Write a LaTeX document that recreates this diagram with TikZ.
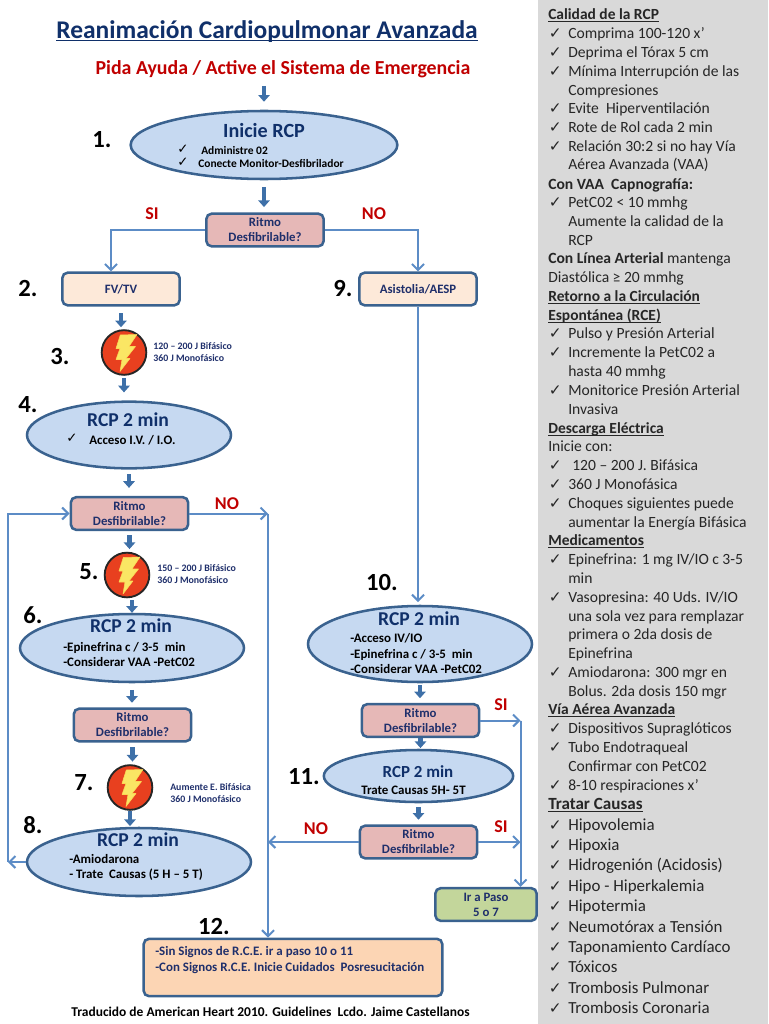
\documentclass[tikz,border=0pt]{standalone}
\usepackage{fontspec}
\setmainfont{Carlito}
\newfontfamily\chkfont{DejaVu Sans}
\usetikzlibrary{arrows.meta,shapes.geometric}
\definecolor{azultxt}{HTML}{10306A}
\definecolor{azulbox}{HTML}{1F2F6B}
\definecolor{rojotxt}{HTML}{C00000}
\definecolor{borde}{HTML}{3A628F}
\definecolor{flecha}{HTML}{3E70A8}
\definecolor{linea}{HTML}{5C8CC6}
\definecolor{elipsefill}{HTML}{C6D9F1}
\definecolor{ritmofill}{HTML}{E6B8B7}
\definecolor{fvfill}{HTML}{FDE9D9}
\definecolor{finfill}{HTML}{FCD5B4}
\definecolor{pasofill}{HTML}{C3D69B}
\definecolor{lateral}{HTML}{D9D9D9}
\definecolor{rayorojo}{HTML}{E8401F}
\definecolor{rayoamar}{HTML}{FAE664}
\newcommand\fs[1]{\fontsize{#1}{#1}\selectfont}
\newcommand\rayado[1]{\underline{\smash{#1}}}
\tikzset{
	rayo/.pic={\draw[rayoamar!85!orange,fill=rayoamar,line width=.4pt,line join=round]
		(-3.7,-17.5) -- (13,-18) -- (5,-6) -- (11.5,-6) -- (2,6) -- (6,6) -- (-4,19)
		-- (-2,7) -- (-8,7) -- (-4,-4) -- (-8,-4) -- cycle;}
}

\begin{document}
\begin{tikzpicture}[x=.75pt,y=-.75pt,
	texto/.style={inner sep=0pt,text=black,font=\fs{9.7}\bfseries,anchor=west,text height=1.5ex,text depth=.3ex,yshift=-.6pt},
	numero/.style={inner sep=0pt,font=\fs{18.5}\bfseries},
	sino/.style={inner sep=0pt,text=rojotxt,font=\fs{13.5}\bfseries},
	rcp/.style={inner sep=0pt,text=azultxt,font=\fs{14.7}\bfseries},
	energia/.style={inner sep=0pt,text=azulbox,font=\fs{7.4}\bfseries,anchor=west},
	marca/.style={inner sep=0pt,font=\chkfont\fs{10}},
	elipse/.style={ellipse,draw=borde,fill=elipsefill,line width=1.9pt,inner sep=0pt},
	caja/.style={rectangle,rounded corners=4pt,draw=borde,line width=1.9pt,inner sep=0pt,align=center,
		text=azulbox,font=\fs{9.6}\bfseries,minimum width=88pt,minimum height=24.5pt},
	ritmo/.style={caja,fill=ritmofill},
	fv/.style={caja,fill=fvfill},
	descarga/.style={circle,draw=black!85,fill=rayorojo,line width=1.4pt,minimum size=33.5pt,inner sep=0pt},
	gruesa/.style={flecha,line width=3.4pt,-{Triangle[width=8.5pt,length=5pt]}},
	fina/.style={linea,line width=1.5pt,-{Straight Barb[length=4.5pt,width=9pt]}},
	lado/.style={inner sep=0pt,text=black!85,font=\fs{11.7},anchor=west,text height=1.5ex,text depth=.3ex,yshift=-1.5pt},
	ladob/.style={lado,font=\fs{11.6}\bfseries},
	ladoitem/.style={lado,execute at begin node={\llap{{\chkfont\fs{11.5}✓}\hspace{5pt}}}},
	causa/.style={ladoitem,font=\fs{12.7}}]
	\useasboundingbox (0,0) rectangle (768,1024);
	\fill[lateral] (538,0) rectangle (768,1024);

	\node[inner sep=0pt,text=azultxt,font=\fs{19.1}\bfseries] (titulo) at (267,40) {\rayado{Reanimación Cardiopulmonar Avanzada}};
	\node[inner sep=0pt,text=rojotxt,font=\fs{14.9}\bfseries] (pida) at (283,69) {Pida Ayuda / Active el Sistema de Emergencia};

	\node[elipse,minimum width=200pt,minimum height=51pt] (inicie) at (264,145) {};
	\node[rcp,font=\fs{15.1}\bfseries] (iniciet) at (264,131) {Inicie RCP};
	\node[marca] (m1) at (183,149) {✓};
	\node[texto,font=\fs{8.6}\bfseries] (ini1) at (201,150) {Administre 02};
	\node[marca] (m2) at (183,162) {✓};
	\node[texto,font=\fs{8.6}\bfseries] (ini2) at (198,163) {Conecte Monitor-Desfibrilador};

	\node[ritmo] (ritmo1) at (265,230) {Ritmo\\[1.7pt]Desfibrilable?};
	\node[sino] (si1) at (152,214) {SI};
	\node[sino] (no1) at (374,214) {NO};
	\node[fv] (fvtv) at (121,289) {FV/TV};
	\node[fv] (asistolia) at (418,289) {Asistolia/AESP};

	\node[descarga] (rayo3) at (124,352.5) {};
	\pic at (rayo3) {rayo};
	\node[energia] (e3a) at (153,346) {120 – 200 J Bifásico};
	\node[energia] (e3b) at (153,358) {360 J Monofásico};

	\node[elipse,minimum width=153pt,minimum height=50pt] (rcp4) at (129,435) {};
	\node[rcp] (rcp4t) at (128,420) {RCP 2 min};
	\node[marca] (m3) at (72,438) {✓};
	\node[texto] (rcp4a) at (89,440) {Acceso I.V. / I.O.};

	\node[ritmo] (ritmo2) at (129.5,513.5) {Ritmo\\[1.7pt]Desfibrilable?};
	\node[sino] (no2) at (227,504) {NO};

	\node[descarga] (rayo5) at (127,575) {};
	\pic at (rayo5) {rayo};
	\node[energia] (e5a) at (157,568) {150 – 200 J Bifásico};
	\node[energia] (e5b) at (157,580) {360 J Monofásico};

	\node[elipse,minimum width=168pt,minimum height=51pt] (rcp6) at (132,648) {};
	\node[rcp] (rcp6t) at (131,626) {RCP 2 min};
	\node[texto] (rcp6a) at (63,647) {-Epinefrina c / 3-5~ min};
	\node[texto] (rcp6b) at (63,662) {-Considerar VAA -PetC02};

	\node[ritmo] (ritmo3) at (132.5,725) {Ritmo\\[1.7pt]Desfibrilable?};

	\node[descarga] (rayo7) at (130,787.5) {};
	\pic at (rayo7) {rayo};
	\node[energia] (e7a) at (170,787) {Aumente E. Bifásica};
	\node[energia] (e7b) at (170,799) {360 J Monofásico};

	\node[elipse,minimum width=168pt,minimum height=51pt] (rcp8) at (139,862) {};
	\node[rcp] (rcp8t) at (138,840) {RCP 2 min};
	\node[texto] (rcp8a) at (69,859) {-Amiodarona};
	\node[texto] (rcp8b) at (69,874) {- Trate~ Causas (5 H – 5 T)};

	\node[elipse,minimum width=168pt,minimum height=57pt] (rcp10) at (420,644) {};
	\node[rcp] (rcp10t) at (419,619) {RCP 2 min};
	\node[texto] (rcp10a) at (350,638) {-Acceso IV/IO};
	\node[texto] (rcp10b) at (350,654) {-Epinefrina c / 3-5~ min};
	\node[texto] (rcp10c) at (350,669) {-Considerar VAA -PetC02};

	\node[ritmo] (ritmo4) at (420.5,720.5) {Ritmo\\[1.7pt]Desfibrilable?};
	\node[sino] (si4) at (501,705) {SI};

	\node[elipse,minimum width=142pt,minimum height=39pt] (rcp11) at (418.5,776) {};
	\node[rcp,font=\fs{12.7}\bfseries] (rcp11t) at (418,772) {RCP 2 min};
	\node[texto] (rcp11a) at (361,790) {Trate Causas 5H- 5T};

	\node[ritmo] (ritmo5) at (418.5,842) {Ritmo\\[1.7pt]Desfibrilable?};
	\node[sino] (no5) at (316,829) {NO};
	\node[sino] (si5) at (501,827) {SI};
	\node[caja,fill=pasofill,minimum width=76pt,minimum height=24.5pt] (irpaso) at (486,904.5) {Ir a Paso\\[1.7pt]5 o 7};

	\node[caja,fill=finfill,minimum width=224pt,minimum height=43pt] (fin) at (293,967.5) {};
	\node[texto,text=azulbox] (fina) at (155,951) {-Sin Signos de R.C.E. ir a paso 10 o 11};
	\node[texto,text=azulbox] (finb) at (155,967) {-Con Signos R.C.E. Inicie Cuidados~ Posresucitación};
	\node[inner sep=0pt,font=\fs{10.1}\bfseries] (pie) at (270.5,1012) {Traducido de American Heart 2010. Guidelines~ Lcdo. Jaime Castellanos};

	\node[numero] (n1) at (102,140) {1.};
	\node[numero] (n2) at (28,288) {2.};
	\node[numero] (n3) at (60,356) {3.};
	\node[numero] (n4) at (28,405) {4.};
	\node[numero] (n5) at (89,572) {5.};
	\node[numero] (n6) at (33,615) {6.};
	\node[numero] (n7) at (84,783) {7.};
	\node[numero] (n8) at (33,825) {8.};
	\node[numero] (n9) at (343,288) {9.};
	\node[numero] (n10) at (382,582) {10.};
	\node[numero] (n11) at (304,777) {11.};
	\node[numero] (n12) at (214,926) {12.};

	\draw[gruesa,shorten <=6pt,shorten >=6pt] (inicie.north |- pida.south) -- (inicie.north);
	\draw[gruesa,shorten <=5pt,shorten >=4pt] (inicie.south) -- (inicie.south |- ritmo1.north);
	\draw[gruesa,shorten <=5pt,shorten >=1.5pt] (fvtv.south) -- (fvtv.south |- rayo3.north);
	\draw[gruesa,shorten <=1.5pt,shorten >=6pt] (rayo3.south) -- (rayo3.south |- rcp4.north);
	\draw[gruesa,shorten <=3.5pt,shorten >=6pt] (rcp4.south) -- (rcp4.south |- ritmo2.north);
	\draw[gruesa,shorten <=3pt,shorten >=2pt] (ritmo2.south) -- (ritmo2.south |- rayo5.north);
	\draw[gruesa,shorten <=1.5pt] (rcp6.north |- rayo5.south) -- (rcp6.north);
	\draw[gruesa,shorten <=5pt,shorten >=3.5pt] (rcp6.south) -- (rcp6.south |- ritmo3.north);
	\draw[gruesa,shorten <=3.5pt,shorten >=2pt] (ritmo3.south) -- (ritmo3.south |- rayo7.north);
	\draw[gruesa,shorten >=.5pt] (rayo7.south) -- (rayo7.south |- rcp8.north);
	\draw[gruesa,shorten <=1.5pt,shorten >=3.5pt] (rcp10.south) -- (rcp10.south |- ritmo4.north);
	\draw[gruesa,shorten >=.5pt] (ritmo4.south) -- (ritmo4.south |- rcp11.north);
	\draw[gruesa,shorten <=3pt,shorten >=3.5pt] (rcp11.south) -- (rcp11.south |- ritmo5.north);

	\coordinate (derA) at (268,513.5);
	\coordinate (derB) at (520.5,720.5);
	\coordinate (izqA) at (8,513.5);
	\coordinate (izqB) at (8,862);
	\coordinate (si1c) at (111,230);
	\coordinate (no1c) at (418,230);
	\draw[fina] (ritmo1.west) -- (si1c) -- (si1c |- fvtv.north);
	\draw[fina] (ritmo1.east) -- (no1c) -- (no1c |- asistolia.north);
	\draw[fina,shorten >=2pt] (asistolia.south) -- (asistolia.south |- rcp10.north);
	\draw[fina] (ritmo2.east) -- (derA);
	\draw[fina] (derA) -- (derA |- fin.north);
	\draw[fina] (rcp8.west) -- (izqB);
	\draw[fina] (izqB) -- (izqA) -- (ritmo2.west);
	\draw[fina] (ritmo4.east) -- (derB);
	\draw[fina] (derB) -- (derB |- irpaso.north);
	\draw[fina] (ritmo5.east) -- (derB |- ritmo5.east);
	\draw[fina] (ritmo5.west) -- (derA |- ritmo5.west);

	\foreach \yy/\txt [count=\i] in {14/{Calidad de la RCP},296/{Retorno a la Circulación},315/{Espontánea (RCE)},428/{Descarga Eléctrica},540/{Medicamentos},709/{Vía Aérea Avanzada}}
		\node[ladob] (tit\i) at (548,\yy) {\rayado{\txt}};
	\node[ladob,font=\fs{12.8}\bfseries] (titcausas) at (548,804) {\rayado{Tratar Causas}};
	\foreach \yy/\txt [count=\i] in {184/{\textbf{Con VAA~ Capnografía:}},258/{\textbf{Con Línea Arterial} mantenga},277/{Diastólica ≥ 20 mmhg},446/{Inicie con:}}
		\node[lado] (lin\i) at (548,\yy) {\txt};
	\foreach \yy/\txt [count=\i] in {33/{Comprima 100-120 x’},52/{Deprima el Tórax 5 cm},71/{Mínima Interrupción de las},108/{Evite~ Hiperventilación},127/{Rote de Rol cada 2 min},146/{Relación 30:2 si no hay Vía},202/{PetC02 < 10 mmhg},333/{Pulso y Presión Arterial},352/{Incremente la PetC02 a},390/{Monitorice Presión Arterial},465/{\hspace{3pt}120 – 200 J. Bifásica},484/{360 J Monofásica},503/{Choques siguientes puede},559/{Epinefrina: 1 mg IV/IO c 3-5},597/{Vasopresina: 40 Uds. IV/IO},672/{Amiodarona: 300 mgr en},728/{Dispositivos Supraglóticos},747/{Tubo Endotraqueal},785/{8-10 respiraciones x'}}
		\node[ladoitem] (item\i) at (568,\yy) {\txt};
	\foreach \yy/\txt [count=\i] in {90/{Compresiones},164/{Aérea Avanzada (VAA)},221/{Aumente la calidad de la},240/{RCP},371/{hasta 40 mmhg},409/{Invasiva},522/{aumentar la Energía Bifásica},578/{min},616/{una sola vez para remplazar},634/{primera o 2da dosis de},653/{Epinefrina},691/{Bolus. 2da dosis 150 mgr},766/{Confirmar con PetC02}}
		\node[lado] (sig\i) at (568,\yy) {\txt};
	\foreach \yy/\txt [count=\i] in {825/{Hipovolemia},845/{Hipoxia},865/{Hidrogenión (Acidosis)},886/{Hipo - Hiperkalemia},906/{Hipotermia},927/{Neumotórax a Tensión},947/{Taponamiento Cardíaco},967/{Tóxicos},988/{Trombosis Pulmonar},1008/{Trombosis Coronaria}}
		\node[causa] (causa\i) at (568,\yy) {\txt};
\end{tikzpicture}
\end{document}
